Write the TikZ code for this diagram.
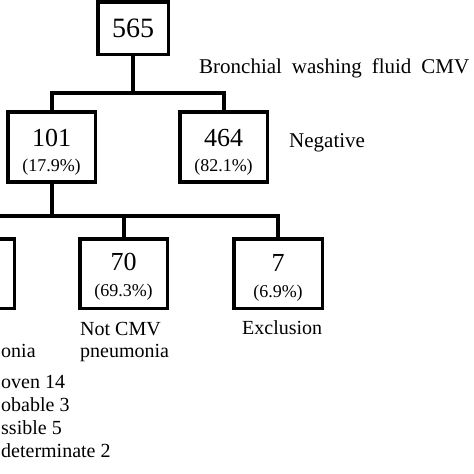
\documentclass[tikz,border=0pt]{standalone}
\usepackage{fontspec}
\setmainfont{Liberation Serif}
\begin{document}
\begin{tikzpicture}[x=1pt,y=-1pt,
  box/.style={draw, line width=3.5pt, inner sep=0pt},
  bigbox/.style={box, minimum width=87.5pt, minimum height=70pt},
  conn/.style={line width=4pt, line join=miter},
  num/.style={font=\fontsize{26}{28}\selectfont, inner sep=0pt},
  pct/.style={font=\fontsize{18}{20}\selectfont, inner sep=0pt},
  lbl/.style={font=\fontsize{20}{22}\selectfont, inner sep=0pt, anchor=base west}]
\useasboundingbox (0,0) rectangle (474,474);

% boxes
\node[box, minimum width=70.5pt, minimum height=52.5pt] (b565) at (133,28) {};
\node[bigbox] (b101) at (51.5,147) {};
\node[bigbox] (b464) at (223.5,147) {};
\node[bigbox, minimum height=69.5pt] (bL) at (-29.5,273.5) {};
\node[bigbox, minimum height=69.5pt] (b70) at (123.5,273.5) {};
\node[bigbox, minimum width=88.5pt, minimum height=69.5pt] (b7) at (278,273.5) {};

% texts in boxes
\node[num, font=\fontsize{28}{30}\selectfont] (t565) at (133,28) {565};
\node[num] (t101) at (51.5,138) {101};
\node[pct] (p101) at (51.5,167) {(17.9\%)};
\node[num] (t464) at (223.5,138) {464};
\node[pct] (p464) at (223.5,167) {(82.1\%)};
\node[num] (t70) at (123.5,262) {70};
\node[pct] (p70) at (123.5,292) {(69.3\%)};
\node[num] (t7) at (278,263) {7};
\node[pct] (p7) at (278,293) {(6.9\%)};

% connectors
\coordinate (j1) at (133,93);
\draw[conn] (b565.south) -- (j1);
\draw[conn] (b101.north) |- (j1) -| (b464.north);
\coordinate (j2) at (51.5,216);
\draw[conn] (b101.south) -- (j2);
\draw[conn] (bL.north) |- (j2) -| (b7.north);
\draw[conn] (j2 -| b70.north) -- (b70.north);

% labels
\node[lbl, font=\fontsize{21}{23}\selectfont] (lbw) at (199,73)
  {\makebox[270pt][s]{Bronchial washing fluid CMV}};
\node[lbl, font=\fontsize{21}{23}\selectfont] (lneg) at (289,147) {Negative};
\node[lbl] (lnot1) at (80,335) {Not CMV};
\node[lbl] (lnot2) at (80,357) {pneumonia};
\node[lbl] (lexc) at (242,334.5) {Exclusion};
\node[lbl] (lpn) at (1,357) {onia};
\node[lbl] (li1) at (1,388.5) {oven 14};
\node[lbl] (li2) at (1,411) {obable 3};
\node[lbl] (li3) at (1,434) {ssible 5};
\node[lbl] (li4) at (1,457) {determinate 2};
\end{tikzpicture}
\end{document}
